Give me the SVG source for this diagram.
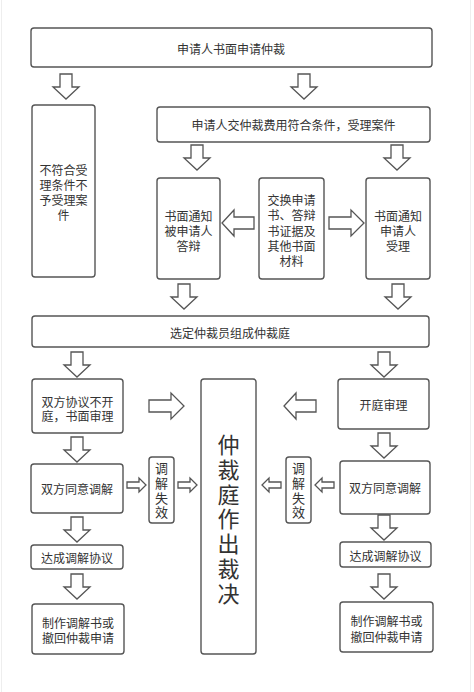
<svg xmlns="http://www.w3.org/2000/svg" width="474" height="692" viewBox="0 0 474 692">
<style>
.box{fill:#fff;stroke:#555;stroke-width:1.4}
.ar{fill:#fff;stroke:#555;stroke-width:1.3;stroke-linejoin:miter}
text{font-family:"Noto Sans CJK SC","Noto Sans",sans-serif;font-size:12px;fill:#333;text-anchor:middle;dominant-baseline:central}
.big{font-size:22px}
.sm{font-size:13px}
</style>
<defs>
<path id="dn" d="M-6,0 H6 V13 H13 L0,25 L-13,13 H-6 Z"/>
<path id="rt" d="M0,-6 H22 V-13 L35,0 L22,13 V6 H0 Z"/>
<path id="lt" d="M0,-6 H-20 V-13 L-32,0 L-20,13 V6 H0 Z"/>
<path id="srt" d="M0,-3 H12 V-7 L19,0 L12,7 V3 H0 Z"/>
<path id="slt" d="M0,-3 H-12 V-7 L-19,0 L-12,7 V3 H0 Z"/>
</defs>
<rect x="1.5" y="-2" width="469" height="700" fill="#fff" stroke="#eee" stroke-width="1"/>
<g id="connectors">
<use href="#dn" class="ar" x="66" y="74"/>
<use href="#dn" class="ar" x="304" y="74"/>
<use href="#dn" class="ar" x="197" y="145"/>
<use href="#dn" class="ar" x="397" y="145"/>
<use href="#lt" class="ar" x="254" y="223"/>
<use href="#rt" class="ar" x="329" y="223"/>
<use href="#dn" class="ar" x="184" y="284"/>
<use href="#dn" class="ar" x="398" y="284"/>
<use href="#dn" class="ar" x="77" y="352"/>
<use href="#dn" class="ar" x="384" y="352"/>
<use href="#rt" class="ar" x="149" y="406"/>
<use href="#lt" class="ar" x="316" y="406"/>
<use href="#dn" class="ar" x="77" y="437"/>
<use href="#dn" class="ar" x="384" y="433"/>
<use href="#srt" class="ar" x="127" y="485"/>
<use href="#srt" class="ar" x="178" y="485"/>
<use href="#slt" class="ar" x="281" y="485"/>
<use href="#slt" class="ar" x="334" y="485"/>
<use href="#dn" class="ar" x="77" y="517"/>
<use href="#dn" class="ar" x="384" y="515"/>
<use href="#dn" class="ar" x="77" y="574"/>
<use href="#dn" class="ar" x="384" y="574"/>
</g>
<g id="n1"><rect class="box" x="31" y="28" width="401" height="39" rx="3"/><text x="231" y="48">申请人书面申请仲裁</text></g>
<g id="n2"><rect class="box" x="32" y="105" width="63" height="172" rx="3"/>
<text><tspan x="63.5" y="169">不符合受</tspan><tspan x="63.5" y="184">理条件不</tspan><tspan x="63.5" y="199">予受理案</tspan><tspan x="63.5" y="214">件</tspan></text></g>
<g id="n3"><rect class="box" x="157" y="107" width="273" height="35" rx="3"/><text x="293.5" y="124.5">申请人交仲裁费用符合条件，受理案件</text></g>
<g id="n4"><rect class="box" x="157" y="178" width="63" height="101" rx="3"/>
<text><tspan x="188.5" y="215">书面通知</tspan><tspan x="188.5" y="230">被申请人</tspan><tspan x="188.5" y="245">答辩</tspan></text></g>
<g id="n5"><rect class="box" x="259" y="178" width="65" height="101" rx="3"/>
<text><tspan x="291.5" y="199">交换申请</tspan><tspan x="291.5" y="214">书、答辩</tspan><tspan x="291.5" y="229.5">书证据及</tspan><tspan x="291.5" y="245">其他书面</tspan><tspan x="291.5" y="260">材料</tspan></text></g>
<g id="n6"><rect class="box" x="366" y="178" width="64" height="101" rx="3"/>
<text><tspan x="398" y="215">书面通知</tspan><tspan x="398" y="230">申请人</tspan><tspan x="398" y="245">受理</tspan></text></g>
<g id="n7"><rect class="box" x="32" y="316" width="397" height="31" rx="3"/><text x="230" y="332">选定仲裁员组成仲裁庭</text></g>
<g id="n8"><rect class="box" x="32" y="379" width="91" height="54" rx="3"/>
<text><tspan x="77.5" y="401">双方协议不开</tspan><tspan x="77.5" y="415">庭，书面审理</tspan></text></g>
<g id="n9"><rect class="box" x="338" y="379" width="91" height="50" rx="3"/><text x="383.5" y="404">开庭审理</text></g>
<g id="n10"><rect class="box" x="201" y="379" width="55" height="275" rx="3"/>
<text class="big"><tspan x="228.5" y="443">仲</tspan><tspan x="228.5" y="468">裁</tspan><tspan x="228.5" y="493">庭</tspan><tspan x="228.5" y="517">作</tspan><tspan x="228.5" y="542">出</tspan><tspan x="228.5" y="567">裁</tspan><tspan x="228.5" y="592">决</tspan></text></g>
<g id="n11"><rect class="box" x="31" y="464" width="92" height="49" rx="3"/><text x="77" y="488">双方同意调解</text></g>
<g id="n12"><rect class="box" x="149" y="457" width="25" height="66" rx="3"/>
<text class="sm"><tspan x="161.5" y="467">调</tspan><tspan x="161.5" y="482">解</tspan><tspan x="161.5" y="497">失</tspan><tspan x="161.5" y="511">效</tspan></text></g>
<g id="n13"><rect class="box" x="286" y="457" width="25" height="66" rx="3"/>
<text class="sm"><tspan x="298.5" y="467">调</tspan><tspan x="298.5" y="482">解</tspan><tspan x="298.5" y="497">失</tspan><tspan x="298.5" y="511">效</tspan></text></g>
<g id="n14"><rect class="box" x="340" y="461" width="90" height="53" rx="3"/><text x="385" y="487">双方同意调解</text></g>
<g id="n15"><rect class="box" x="31" y="545" width="92" height="24" rx="3"/><text x="77" y="557">达成调解协议</text></g>
<g id="n16"><rect class="box" x="340" y="542" width="91" height="25" rx="3"/><text x="385.5" y="555">达成调解协议</text></g>
<g id="n17"><rect class="box" x="32" y="604" width="92" height="50" rx="3"/>
<text><tspan x="78" y="622">制作调解书或</tspan><tspan x="78" y="637">撤回仲裁申请</tspan></text></g>
<g id="n18"><rect class="box" x="340" y="602" width="93" height="50" rx="3"/>
<text><tspan x="386.5" y="620">制作调解书或</tspan><tspan x="386.5" y="636">撤回仲裁申请</tspan></text></g>
</svg>
